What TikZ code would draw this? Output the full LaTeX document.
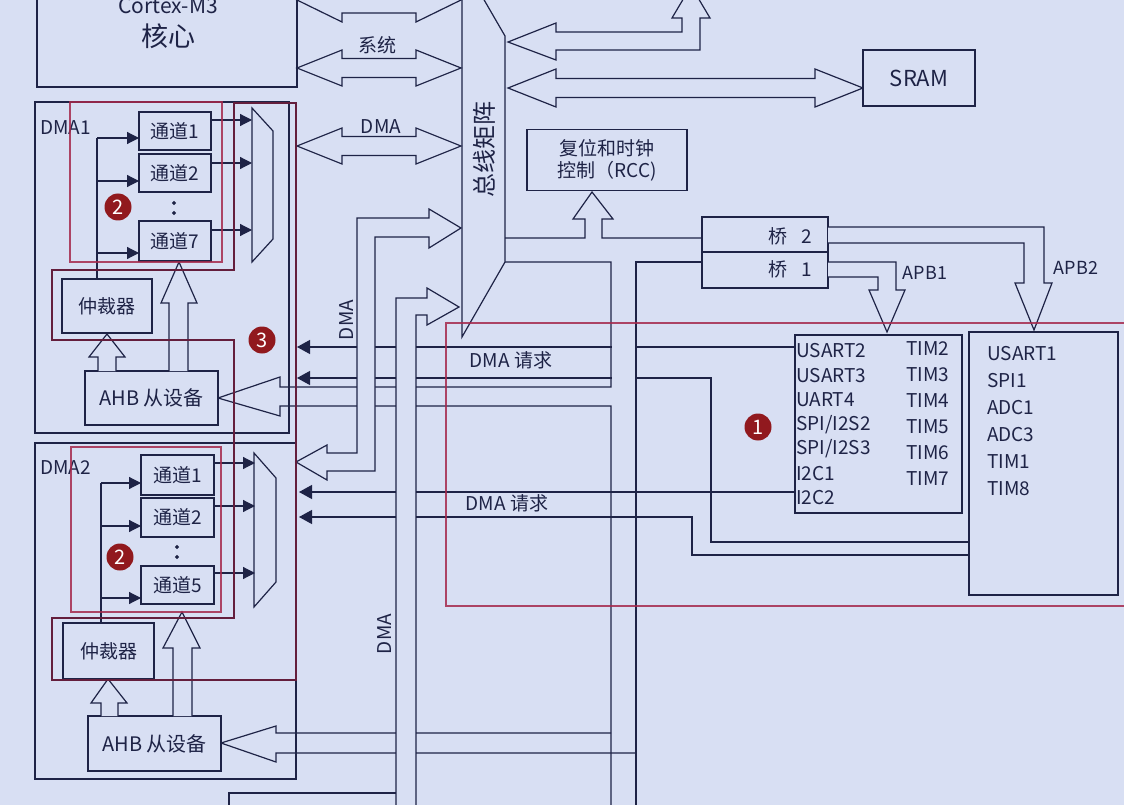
\documentclass[tikz,border=0pt]{standalone}
\usepackage{fontspec}
\setmainfont{Noto Sans CJK SC}
\usetikzlibrary{arrows.meta}
\definecolor{bg}{RGB}{216,223,243}
\definecolor{ln}{RGB}{30,35,70}
\definecolor{rd}{RGB}{165,40,75}
\definecolor{mr}{RGB}{100,30,60}
\definecolor{badge}{RGB}{145,25,30}
\newcommand\hdbl[6]{\draw[fat] (#1,#3) -- ({#1+#6},{#3-#5}) -- ({#1+#6},{#3-#4}) -- ({#2-#6},{#3-#4}) -- ({#2-#6},{#3-#5}) -- (#2,#3) -- ({#2-#6},{#3+#5}) -- ({#2-#6},{#3+#4}) -- ({#1+#6},{#3+#4}) -- ({#1+#6},{#3+#5}) -- cycle;}
\newcommand\fs[1]{\fontsize{#1}{#1}\selectfont}
\begin{document}
\begin{tikzpicture}[x=1pt,y=-1pt,
  every node/.style={inner sep=0pt,text=ln},
  fat/.style={draw=ln,fill=bg,line width=1.2pt,line join=miter},
  ln/.style={draw=ln,line width=1.2pt},
  box/.style={draw=ln,line width=1.2pt,fill=bg},
  req/.style={draw=ln,line width=1.2pt,-{Triangle[length=13pt,width=14pt]}},
  chv/.style={draw=ln,line width=1.2pt,-{Triangle[length=12pt,width=12pt]}},
  redl/.style={draw=rd,line width=2pt,opacity=.85},
  mrl/.style={draw=mr,line width=1.6pt},
  bdg/.style={circle,fill=badge,minimum size=27pt,text=white,font=\fs{20}}]
\useasboundingbox (0,0) rectangle (1124,805);
\fill[bg] (0,0) rectangle (1124,805);
% ---- request lines and buses
\draw[req] (795,347) -- (297,347);
\draw[req] (969,542) -- (711,542) -- (711,378) -- (297,378);
\draw[req] (795,492) -- (299,492);
\draw[req] (969,555) -- (692,555) -- (692,517) -- (299,517);
\draw[ln] (505,262) -- (611,262) -- (611,387) -- (280,387) -- (280,377) -- (218,398) -- (280,416) -- (280,406) -- (611,406) -- (611,805);
\draw[ln] (702,262) -- (636,262) -- (636,805);
\draw[ln] (611,733) -- (276,733) -- (276,726) -- (221,743) -- (276,762) -- (276,753) -- (636,753);
\draw[ln] (229,805) -- (229,793) -- (397,793);
\fill[bg] (612,262) rectangle (635,387);
\draw[fat] (375,471) -- (327,471) -- (327,480) -- (296,462) -- (327,445) -- (327,453) -- (357,453) -- (357,218) -- (429,218) -- (429,209) -- (461,228) -- (429,248) -- (429,237) -- (375,237) -- cycle;
\fill[bg] (396,298) rectangle (416,806);
\draw[ln] (396,806) -- (396,298) -- (427,298) -- (427,288) -- (459,307) -- (427,325) -- (427,315) -- (416,315) -- (416,806);
\node[rotate=90,font=\fs{19}] (dmal1) at (347,320) {DMA};
\node[rotate=90,font=\fs{19}] (dmal2) at (385,634) {DMA};
% ---- bus matrix
\draw[fat] (462,-2) -- (462,337) -- (505,262) -- (505,36) -- (483,-2);
\node[rotate=90,font=\fs{24}] (bm) at (484,150) {总线矩阵};
% ---- Cortex
\draw[box] (37,-10) rectangle (297,87);
\node[font=\fs{21}] (cx) at (168,6) {Cortex-M3};
\node[font=\fs{27}] (cxh) at (168,36) {核心};
\hdbl{297}{461}{0}{13}{22}{45}
\hdbl{297}{461}{68}{9.5}{18}{45}
\node[font=\fs{19}] (xt) at (377,45) {系统};
\hdbl{297}{461}{146}{9.5}{18}{45}
\node[font=\fs{19}] (dmt) at (381,127) {DMA};
\draw[fat] (508,42) -- (556,23) -- (556,32) -- (682,32) -- (682,18) -- (672,18) -- (691,-14) -- (710,18) -- (700,18) -- (700,50) -- (556,50) -- (556,60) -- cycle;
\hdbl{508}{863}{88}{9.5}{19}{48}
\node[box,minimum width=112pt,minimum height=56pt,font=\fs{22}] (sram) at (919,78) {SRAM};
\node[box,minimum width=160pt,minimum height=61pt,align=center,font=\fs{19}] (rcc) at (607,160) {复位和时钟\\[3pt]控制（RCC)};
\draw[ln] (505,238) -- (585,238) -- (585,219) -- (573,219) -- (592,192) -- (613,219) -- (602,219) -- (602,238) -- (702,238);
\draw[box] (702,217) rectangle (828,288);
\draw[ln] (702,252) -- (828,252);
\node[font=\fs{19}] (b2) at (790,236) {桥\hspace{14pt}2};
\node[font=\fs{19}] (b1) at (790,269) {桥\hspace{14pt}1};
\draw[fat] (828,262) -- (896,262) -- (896,290) -- (905,290) -- (887,332) -- (869,290) -- (878,290) -- (878,277) -- (828,277);
\draw[fat] (828,227) -- (1044,227) -- (1044,283) -- (1052,283) -- (1034,330) -- (1015,283) -- (1024,283) -- (1024,243) -- (828,243);
\node[font=\fs{18}] (apb1) at (925,273) {APB1};
\node[font=\fs{18}] (apb2) at (1076,268) {APB2};
\draw[box,fill=none] (795,335) rectangle (962,513);
\draw[box,fill=none] (969,332) rectangle (1118,595);
\foreach \t [count=\i] in {USART2,USART3,UART4,SPI/I2S2,SPI/I2S3,I2C1,I2C2}
  \node[anchor=west,font=\fs{19}] (pa\i) at (796,{351+24.5*(\i-1)}) {\t};
\foreach \t [count=\i] in {TIM2,TIM3,TIM4,TIM5,TIM6,TIM7}
  \node[anchor=west,font=\fs{19}] (pb\i) at (906,{349+26*(\i-1)}) {\t};
\foreach \t [count=\i] in {USART1,SPI1,ADC1,ADC3,TIM1,TIM8}
  \node[anchor=west,font=\fs{19}] (pc\i) at (987,{354+27*(\i-1)}) {\t};
\node[font=\fs{19}] (rq1) at (511,360) {DMA 请求};
\node[font=\fs{19}] (rq2) at (507,503) {DMA 请求};
% ---- DMA1
\draw[ln] (35,102) rectangle (289,433);
\node[font=\fs{19},anchor=west] (d1) at (40,128) {DMA1};
\foreach \a/\b/\t in {112/150/通道1,154/192/通道2,221/261/通道7}
  \draw[box] (139,\a) rectangle (211,\b) node[midway,font=\fs{19}] {\t};
\fill[ln] (174,203) circle (1.3pt) (174,213) circle (1.3pt);
\draw[ln] (97,279) -- (97,138);
\foreach \y in {138,181,253} \draw[chv] (97,\y) -- (139,\y);
\foreach \y in {120,163,230} \draw[chv] (211,\y) -- (252,\y);
\draw[ln] (252,108) -- (273,131) -- (273,239) -- (252,262) -- cycle;
\node[box,minimum width=90pt,minimum height=54pt,font=\fs{19}] (arb1) at (107,306) {仲裁器};
\node[box,minimum width=133pt,minimum height=54pt,font=\fs{20}] (ahb1) at (151.5,398) {AHB 从设备};
\draw[fat] (98,371) -- (98,357) -- (89,357) -- (107,334) -- (125,357) -- (116,357) -- (116,371);
\draw[fat] (169,371) -- (169,303) -- (161,303) -- (179,262) -- (197,303) -- (188,303) -- (188,371);
% ---- DMA2
\draw[ln] (35,443) rectangle (296,779);
\node[font=\fs{19},anchor=west] (d2) at (40,468) {DMA2};
\foreach \a/\b/\t in {455/495/通道1,498/537/通道2,566/604/通道5}
  \draw[box] (141,\a) rectangle (214,\b) node[midway,font=\fs{19}] {\t};
\fill[ln] (177,547) circle (1.3pt) (177,557) circle (1.3pt);
\draw[ln] (101,623) -- (101,483);
\foreach \y in {483,526,598} \draw[chv] (101,\y) -- (141,\y);
\foreach \y in {463,506,573} \draw[chv] (214,\y) -- (255,\y);
\draw[ln] (254,453) -- (276,478) -- (276,582) -- (254,607) -- cycle;
\node[box,minimum width=91pt,minimum height=56pt,font=\fs{19}] (arb2) at (108.5,651) {仲裁器};
\node[box,minimum width=133pt,minimum height=55pt,font=\fs{20}] (ahb2) at (154.5,743.5) {AHB 从设备};
\draw[fat] (101,716) -- (101,703) -- (91,703) -- (108,679) -- (127,703) -- (118,703) -- (118,716);
\draw[fat] (173,716) -- (173,648) -- (163,648) -- (182,612) -- (200,648) -- (192,648) -- (192,716);
% ---- annotations
\draw[mrl] (234,103) -- (296,103) -- (296,680) -- (52,680) -- (52,618) -- (234,618) -- (234,340) -- (52,340) -- (52,270) -- (234,270) -- cycle;
\draw[redl] (70,102) rectangle (222,262);
\draw[redl] (71,447) rectangle (221,612);
\draw[redl] (1124,323) -- (446,323) -- (446,606) -- (1124,606);
\node[bdg] (n2a) at (118,207) {2};
\node[bdg] (n2b) at (120,557) {2};
\node[bdg] (n3) at (262,340) {3};
\node[bdg] (n1) at (758,427) {1};
\end{tikzpicture}
\end{document}
